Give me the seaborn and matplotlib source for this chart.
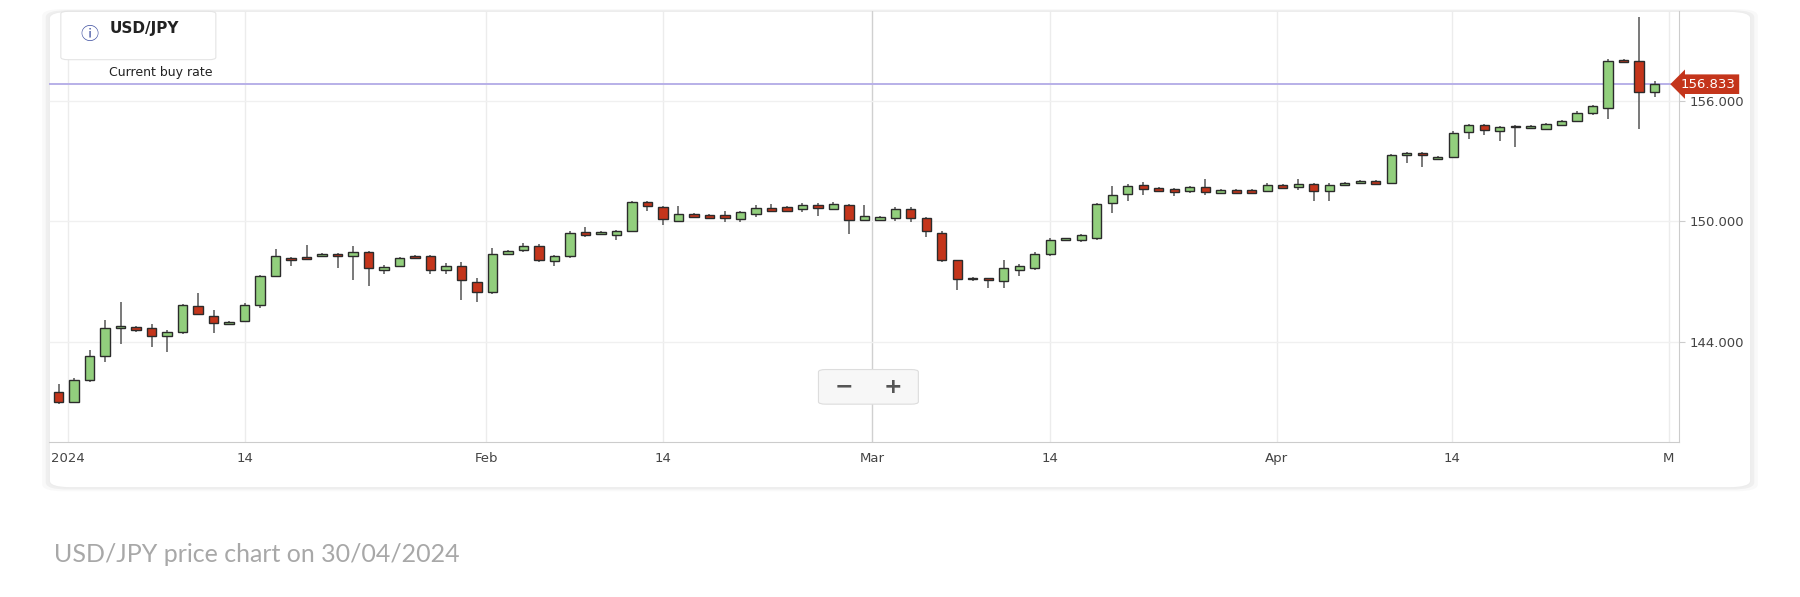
import matplotlib.pyplot as plt
import numpy as np
import seaborn as sns
from matplotlib.patches import FancyBboxPatch

# --- data (one candle per slot) ---
opens = [141.5, 141.0, 142.1, 143.3, 144.7, 144.75, 144.7, 144.3, 144.5, 145.78,
         145.3, 144.9, 145.05, 145.83, 147.3, 148.2, 148.2, 148.3, 148.4, 148.28,
         148.5, 147.6, 147.8, 148.3, 148.3, 147.6, 147.78, 147.0, 146.5, 148.4,
         148.56, 148.77, 148.05, 148.3, 149.45, 149.35, 149.3, 149.5, 150.98, 150.7,
         150.03, 150.37, 150.3, 150.3, 150.14, 150.39, 150.68, 150.7, 150.64, 150.84,
         150.64, 150.8, 150.08, 150.05, 150.17, 150.64, 150.17, 149.43, 148.06, 147.2,
         147.15, 147.03, 147.6, 147.7, 148.4, 149.1, 149.1, 149.2, 150.9, 151.35,
         151.8, 151.65, 151.6, 151.5, 151.72, 151.4, 151.55, 151.55, 151.5, 151.8,
         151.7, 151.85, 151.5, 151.8, 151.9, 152.0, 151.9, 153.3, 153.4, 153.1,
         153.2, 154.45, 154.8, 154.5, 154.75, 154.65, 154.6, 154.8, 155.0, 155.4,
         155.65, 158.05, 158.0, 156.45]
closes = [141.0, 142.1, 143.3, 144.7, 144.8, 144.6, 144.3, 144.5, 145.86, 145.4,
          144.93, 145.0, 145.86, 147.3, 148.26, 148.1, 148.15, 148.4, 148.28, 148.5,
          147.67, 147.75, 148.2, 148.2, 147.6, 147.78, 147.1, 146.5, 148.36, 148.55,
          148.78, 148.06, 148.3, 149.4, 149.3, 149.45, 149.5, 150.96, 150.76, 150.1,
          150.39, 150.24, 150.17, 150.17, 150.46, 150.68, 150.5, 150.54, 150.84, 150.68,
          150.88, 150.08, 150.29, 150.2, 150.64, 150.17, 149.54, 148.06, 147.14, 147.14,
          147.1, 147.7, 147.8, 148.4, 149.1, 149.15, 149.3, 150.86, 151.3, 151.77,
          151.6, 151.52, 151.47, 151.7, 151.47, 151.55, 151.4, 151.4, 151.8, 151.65,
          151.86, 151.5, 151.82, 151.9, 152.0, 151.85, 153.3, 153.4, 153.3, 153.2,
          154.4, 154.8, 154.55, 154.7, 154.7, 154.75, 154.85, 155.0, 155.4, 155.75,
          158.0, 157.95, 156.45, 156.85]
highs = [141.9, 142.2, 143.6, 145.1, 146.0, 144.8, 144.9, 144.6, 145.9, 146.45,
         145.57, 145.05, 145.95, 147.35, 148.65, 148.25, 148.85, 148.45, 148.45, 148.78,
         148.55, 147.85, 148.25, 148.35, 148.35, 147.95, 148.0, 147.2, 148.7, 148.6,
         148.95, 148.9, 148.35, 149.5, 149.7, 149.5, 149.55, 151.0, 151.0, 150.75,
         150.76, 150.4, 150.35, 150.5, 150.5, 150.82, 150.88, 150.75, 150.9, 150.9,
         150.95, 150.85, 150.8, 150.25, 150.7, 150.7, 150.2, 149.5, 148.1, 147.25,
         147.2, 148.1, 147.9, 148.5, 149.2, 149.2, 149.35, 150.9, 151.75, 151.85,
         151.95, 151.7, 151.65, 151.75, 152.1, 151.6, 151.6, 151.6, 151.9, 151.85,
         152.1, 151.9, 151.9, 151.95, 152.05, 152.05, 153.35, 153.45, 153.45, 153.25,
         154.5, 154.85, 154.85, 154.75, 154.8, 154.8, 154.9, 155.05, 155.5, 155.8,
         158.1, 158.1, 160.2, 157.0]
lows = [140.9, 140.95, 142.0, 143.0, 143.9, 144.5, 143.75, 143.5, 144.4, 145.35,
        144.46, 144.85, 145.0, 145.7, 147.25, 147.8, 148.1, 148.25, 147.7, 147.1,
        146.8, 147.4, 147.75, 148.15, 147.4, 147.4, 146.1, 146.0, 146.4, 148.35,
        148.5, 148.0, 147.8, 148.2, 149.25, 149.3, 149.1, 149.45, 150.5, 149.8,
        149.95, 150.2, 150.1, 149.95, 149.97, 150.2, 150.45, 150.5, 150.45, 150.29,
        150.6, 149.36, 150.05, 150.0, 150.0, 149.95, 149.24, 148.0, 146.6, 147.05,
        146.7, 146.7, 147.3, 147.6, 148.3, 149.05, 149.0, 149.1, 150.4, 151.0,
        151.3, 151.45, 151.25, 151.4, 151.3, 151.35, 151.35, 151.35, 151.45, 151.6,
        151.55, 151.0, 151.0, 151.75, 151.85, 151.8, 151.85, 152.9, 152.7, 153.05,
        153.15, 154.1, 154.3, 154.0, 153.7, 154.6, 154.55, 154.75, 154.95, 155.3,
        155.1, 157.9, 154.6, 156.2]

tick_pos = [0.6, 12.0, 27.6, 39.0, 52.5, 64.0, 78.6, 89.9, 103.9]
tick_labels = ["2024", "14", "Feb", "14", "Mar", "14", "Apr", "14", "M"]
y_ticks = [144, 150, 156]
buy_rate = 156.833

GREEN, RED = "#92cf7d", "#c4351b"

sns.set_style("white")
plt.rcParams['font.family'] = ['DejaVu Sans', 'Noto Sans CJK JP']
fig = plt.figure(figsize=(18, 5.97), dpi=100)

# card with soft shadow
for pad, a in [(0.004, 0.025), (0.002, 0.04)]:
    fig.patches.append(FancyBboxPatch((0.0274 - pad, 0.183 - pad * 1.5), 0.9452 + 2 * pad, 0.798 + pad * 2.5,
                                      boxstyle="round,pad=0,rounding_size=0.012", transform=fig.transFigure,
                                      fc="black", ec="none", alpha=a, zorder=0))
fig.patches.append(FancyBboxPatch((0.0274, 0.183), 0.9452, 0.798,
                                  boxstyle="round,pad=0,rounding_size=0.012", transform=fig.transFigure,
                                  fc="white", ec="#ececec", lw=0.8, zorder=1))

ax = fig.add_axes([0.0274, 0.26, 0.9056, 0.721])
ax.set_zorder(2)
ax.patch.set_alpha(0)

x = np.arange(len(opens))
o, c, h, l = map(np.array, (opens, closes, highs, lows))
colors = np.where(c >= o, GREEN, RED)
ax.vlines(x, l, h, color="#555555", lw=1.1, zorder=3)
ax.bar(x, np.maximum(np.abs(c - o), 0.06), bottom=np.minimum(o, c), width=0.6,
       color=colors, edgecolor="#2b2b2b", linewidth=1.0, zorder=4)

ax.set_xlim(-0.6, 104.6)
ax.set_ylim(139.03, 160.46)
for p, lab in zip(tick_pos, tick_labels):
    ax.axvline(p, color="#d0d0d0" if lab == "Mar" else "#ececec", lw=1, zorder=1)
for yv in y_ticks:
    ax.axhline(yv, color="#f0f0f0", lw=1, zorder=1)
ax.axhline(buy_rate, color="#b8b0e8", lw=1.4, zorder=2)

ax.set_xticks(tick_pos)
ax.set_xticklabels(tick_labels, fontsize=9.5, color="#444444")
ax.yaxis.tick_right()
ax.set_yticks(y_ticks)
ax.set_yticklabels([f"{v:.3f}" for v in y_ticks], fontsize=9.5, color="#444444")
ax.tick_params(length=4, color="#cccccc", pad=3)
for s in ["top", "left"]:
    ax.spines[s].set_visible(False)
for s in ["bottom", "right"]:
    ax.spines[s].set_color("#cccccc")

ax.text(1.001, buy_rate, f"{buy_rate:.3f}", transform=ax.get_yaxis_transform(), va="center", ha="left",
        fontsize=9.5, color="white", zorder=6,
        bbox=dict(boxstyle="larrow,pad=0.25", fc=RED, ec="none"))

# info box
fig.patches.append(FancyBboxPatch((0.0338, 0.9), 0.0861, 0.081, boxstyle="round,pad=0,rounding_size=0.004",
                                  transform=fig.transFigure, fc="white", ec="#e4e4e4", lw=0.8, zorder=3))
fig.text(0.0497, 0.942, "ⓘ", fontsize=13, color="#3d4fa0", ha="center", va="center", zorder=5,
         family=['Noto Sans CJK JP', 'DejaVu Sans'])
fig.text(0.061, 0.952, "USD/JPY", fontsize=11, fontweight="bold", color="#222222", va="center", zorder=5)
fig.text(0.0605, 0.878, "Current buy rate", fontsize=9, color="#222222", va="center", zorder=5)

# zoom buttons
fig.patches.append(FancyBboxPatch((0.4547, 0.323), 0.0555, 0.058, boxstyle="round,pad=0,rounding_size=0.004",
                                  transform=fig.transFigure, fc="#f7f7f7", ec="#dddddd", lw=0.8, zorder=3))
fig.text(0.4687, 0.352, "−", fontsize=16, fontweight="bold", color="#555555", ha="center", va="center", zorder=5)
fig.text(0.4962, 0.352, "+", fontsize=16, fontweight="bold", color="#555555", ha="center", va="center", zorder=5)

fig.text(0.03, 0.072, "USD/JPY price chart on 30/04/2024", fontsize=18, color="#a8a8a8", va="center",
         family=['Lato', 'DejaVu Sans'])

fig.savefig("out.png", dpi=100, facecolor="white")
